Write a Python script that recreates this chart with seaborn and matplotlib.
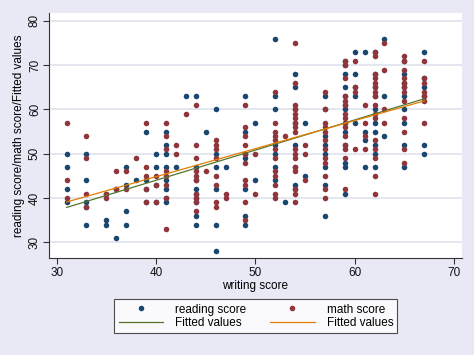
import matplotlib
matplotlib.use("Agg")
import matplotlib.pyplot as plt
from matplotlib.lines import Line2D
import seaborn as sns
import pandas as pd
import numpy as np

# reading score values grouped by writing score
# (includes estimated points hidden beneath math markers)
read_by_write = {
    31: [50, 47, 42, 39], 33: [50, 44, 39, 38, 34], 35: [41, 35, 34], 36: [42, 31],
    37: [47, 43, 37, 34], 38: [44], 39: [55, 44, 42, 39], 40: [50, 47, 43, 39],
    41: [55, 52, 50, 47, 44, 42, 40, 39], 42: [47], 43: [63],
    44: [63, 47, 44, 42, 41, 40, 39, 36, 34], 45: [55], 46: [60, 50, 47, 42, 34, 28],
    47: [47], 49: [63, 55, 50, 49, 42, 36, 34], 50: [57, 44],
    52: [76, 63, 60, 52, 50, 47, 44], 53: [39], 54: [68, 65, 60, 57, 52, 47, 43, 42],
    55: [57, 45], 57: [63, 60, 54, 52, 50, 47, 43, 36],
    59: [71, 70, 68, 65, 63, 61, 60, 57, 55, 52, 48, 47, 41], 60: [73, 68, 65, 63, 57],
    61: [73, 55, 53, 47], 62: [73, 68, 65, 63, 60, 57, 55, 52, 50, 47], 63: [76, 63, 54],
    65: [71, 68, 66, 65, 63, 60, 57, 52, 47], 67: [73, 67, 65, 63, 52, 50],
}
# math score values grouped by writing score
math_by_write = {
    31: [57, 44, 40], 33: [54, 49, 41, 38], 35: [41, 40], 36: [46, 42],
    37: [46, 42], 38: [49], 39: [57, 47, 45, 42, 39], 40: [45, 43, 39],
    41: [57, 54, 51, 46, 45, 43, 40, 33], 42: [52, 50], 43: [59],
    44: [61, 52, 49, 46, 45, 44, 41, 40, 39, 37], 45: [46],
    46: [53, 52, 51, 49, 45, 43, 39, 38], 47: [41, 40],
    49: [61, 56, 54, 52, 50, 48, 44, 43, 39, 35], 50: [50, 41],
    52: [64, 57, 55, 54, 53, 51, 49, 46, 45, 43, 41, 40], 53: [54],
    54: [75, 66, 61, 60, 59, 58, 57, 56, 55, 51, 50, 49, 47, 46, 42, 41, 39],
    55: [52, 50, 44], 57: [64, 60, 57, 56, 55, 53, 51, 49, 48, 45, 42, 40],
    59: [71, 70, 67, 63, 62, 61, 59, 58, 57, 56, 54, 52, 51, 49, 42],
    60: [71, 65, 64, 51], 61: [61, 57, 54, 51],
    62: [73, 72, 68, 67, 66, 65, 64, 63, 61, 59, 58, 53, 51, 49, 45, 41],
    63: [75, 69, 60, 57], 65: [72, 71, 69, 67, 66, 65, 64, 62, 58, 55, 51, 48],
    67: [71, 67, 66, 64, 63, 62, 57],
}
x_ticks = [30, 40, 50, 60, 70]
y_ticks = [30, 40, 50, 60, 70, 80]

read_df = pd.DataFrame([(w, v) for w, vs in read_by_write.items() for v in vs],
                       columns=["write", "score"])
math_df = pd.DataFrame([(w, v) for w, vs in math_by_write.items() for v in vs],
                       columns=["write", "score"])

NAVY = "#1a476f"
MAROON = "#90353b"
GREEN = "#55752f"
ORANGE = "#e37e00"
BG = "#e8e9f5"

plt.rcParams["font.family"] = ["Liberation Sans", "DejaVu Sans"]
fig = plt.figure(figsize=(4.74, 3.55), dpi=100, facecolor=BG)
ax = fig.add_axes([0.104, 0.2724, 0.870, 0.690])
ax.set_facecolor("white")

for y in y_ticks:
    ax.axhline(y, color="#e4e6f0", lw=1.4, zorder=0)

sns.scatterplot(data=read_df, x="write", y="score", color=NAVY, s=16,
                linewidth=0, ax=ax, zorder=3)
sns.scatterplot(data=math_df, x="write", y="score", color=MAROON, s=16,
                linewidth=0, ax=ax, zorder=3)
sns.regplot(data=read_df, x="write", y="score", scatter=False, ci=None,
            color=GREEN, line_kws={"lw": 0.9, "zorder": 4}, ax=ax)
sns.regplot(data=math_df, x="write", y="score", scatter=False, ci=None,
            color=ORANGE, line_kws={"lw": 0.9, "zorder": 5}, ax=ax)

ax.set_xlim(29.26, 70.77)
ax.set_ylim(26.4, 81.7)
ax.set_xticks(x_ticks)
ax.set_yticks(y_ticks)
ax.set_yticklabels([str(t) for t in y_ticks], rotation=90, va="center")
ax.tick_params(axis="both", direction="out", length=4, width=0.8,
               color="#333333", labelsize=8.5, labelcolor="#111111", pad=2)
for s in ["top", "right"]:
    ax.spines[s].set_visible(False)
for s in ["left", "bottom"]:
    ax.spines[s].set_color("#333333")
    ax.spines[s].set_linewidth(0.8)
ax.set_xlabel("writing score", fontsize=8.5, labelpad=1)
ax.set_ylabel("reading score/math score/Fitted values", fontsize=8.5, labelpad=3)

handles = [
    Line2D([], [], marker="o", ls="none", color=NAVY, markersize=3),
    Line2D([], [], color=GREEN, lw=0.9),
    Line2D([], [], marker="o", ls="none", color=MAROON, markersize=3),
    Line2D([], [], color=ORANGE, lw=0.9),
]
labels = ["reading score", "Fitted values", "math score", "Fitted values"]
leg = fig.legend(handles, labels, ncol=2, loc="center",
                 bbox_to_anchor=(0.54, 0.1085), fontsize=8.5, frameon=True,
                 fancybox=False, edgecolor="#222222", handlelength=3.8,
                 columnspacing=2.0, handletextpad=1.0, labelspacing=0.15,
                 borderpad=0.35)
leg.get_frame().set_linewidth(0.8)

fig.savefig("out.png", dpi=100, facecolor=BG)
